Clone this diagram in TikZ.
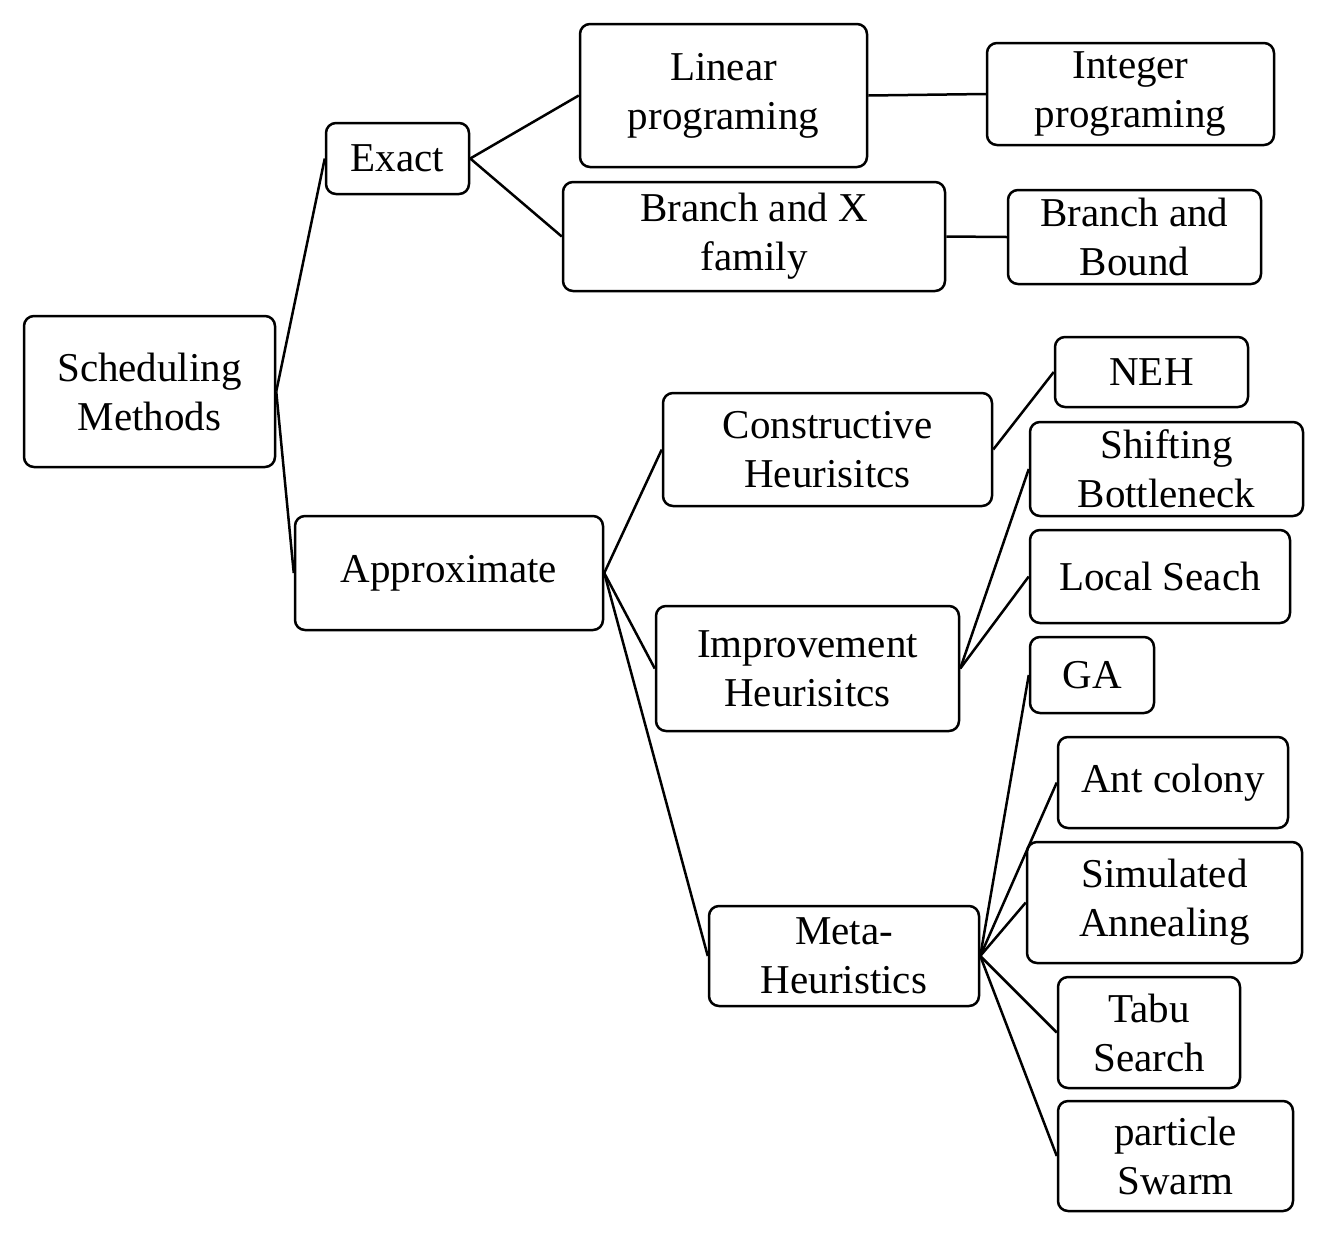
\documentclass[tikz,border=0pt]{standalone}
\usepackage{fontspec}
\setmainfont{Liberation Serif}
\begin{document}
\begin{tikzpicture}[x=1pt,y=-1pt,
 box/.style={draw,line width=2.5pt,rounded corners=10pt,align=center,inner sep=0pt,font=\fontsize{41}{49}\selectfont},
 ln/.style={line width=2.5pt}]
\useasboundingbox (0,0) rectangle (1324,1232);
\newcommand\bx[5]{\node[box,minimum width={#4-#2},minimum height={#5-#3}] (#1) at ({(#2+#4)/2},{(#3+#5)/2})}
\bx{s}{24}{316}{275}{467}{Scheduling\\Methods};
\bx{ex}{326}{123}{469}{194}{Exact};
\bx{lp}{580}{24}{867}{167}{Linear\\programing};
\bx{ip}{987}{43}{1274}{145}{Integer\\programing};
\bx{bx}{563}{182}{945}{291}{Branch and X\\family};
\bx{bb}{1008}{190}{1261}{284}{Branch and\\Bound};
\bx{ap}{295}{516}{603}{630}{Approximate};
\bx{ch}{663}{393}{992}{506}{Constructive\\Heurisitcs};
\bx{neh}{1055}{337}{1248}{407}{NEH};
\bx{sb}{1030}{422}{1303}{516}{Shifting\\Bottleneck};
\bx{ls}{1030}{530}{1290}{623}{Local Seach};
\bx{ih}{656}{606}{959}{731}{Improvement\\Heurisitcs};
\bx{ga}{1030}{637}{1154}{713}{GA};
\bx{mh}{709}{906}{979}{1006}{Meta-\\Heuristics};
\bx{ac}{1058}{737}{1288}{828}{Ant colony};
\bx{sa}{1027}{842}{1302}{963}{Simulated\\Annealing};
\bx{ts}{1058}{977}{1240}{1088}{Tabu\\Search};
\bx{ps}{1058}{1101}{1293}{1211}{particle\\Swarm};
\foreach \a/\b in {s/ex,s/ap,ex/lp,ex/bx,lp/ip,bx/bb,ap/ch,ap/ih,ap/mh,ch/neh,ih/sb,ih/ls,mh/ga,mh/ac,mh/sa,mh/ts,mh/ps}
  \draw[ln] (\a.east) -- (\b.west);
\end{tikzpicture}
\end{document}
